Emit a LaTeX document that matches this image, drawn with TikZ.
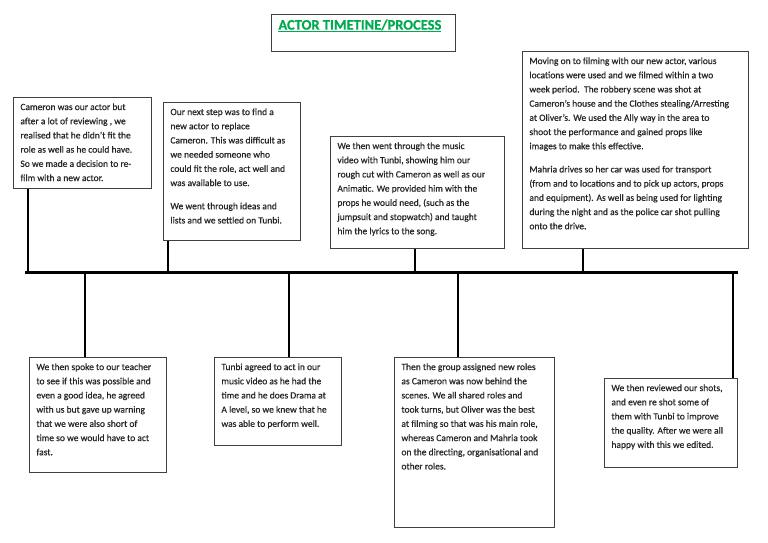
\documentclass[tikz,border=0pt]{standalone}
\usepackage{fontspec}
\setmainfont{Carlito}[FakeBold=0.8]
\usepackage{tikz}
\usetikzlibrary{calc}

\definecolor{titlegreen}{RGB}{0,170,80}

\begin{document}
\begin{tikzpicture}[x=1pt,y=-1pt,
	event/.style={draw=black!75, line width=0.9pt, anchor=north west,
		inner xsep=7pt, inner ysep=6pt,
		font=\fontsize{9.5}{14.2}\selectfont\addfontfeatures{FakeBold=0.6}, text=black!85},
	timeline/.style={line width=3pt, line cap=rect},
	stem/.style={line width=2.6pt}]

% parameters %{{{2

	\def\liney{272}
	\def\gap{9pt}

	\useasboundingbox (0,0) rectangle (768,543);

% title %{{{2

	\node[event, inner ysep=5pt, font=\fontsize{14.5}{16}\selectfont\bfseries, text=titlegreen]
		(title) at (271,14)
		{\begin{minipage}[t][27pt][t]{170pt}\underline{ACTOR TIMETINE/PROCESS}\end{minipage}};

% boxes above %{{{2

	\node[event] (B1) at (13,97)
		{\begin{minipage}[t][79pt][t]{124pt}\raggedright
		Cameron was our actor but\\
		after a lot of reviewing , we\\
		realised that he didn't fit the\\
		role as well as he could have.\\
		So we made a decision to re-\\
		film with a new actor.
		\end{minipage}};

	\node[event] (B2) at (163,102)
		{\begin{minipage}[t][126pt][t]{123pt}\raggedright
		Our next step was to find a\\
		new actor to replace\\
		Cameron. This was difficult as\\
		we needed someone who\\
		could fit the role, act well and\\
		was available to use.\\[\gap]
		We went through ideas and\\
		lists and we settled on Tunbi.
		\end{minipage}};

	\node[event] (B3) at (330,136)
		{\begin{minipage}[t][100pt][t]{160pt}\raggedright
		We then went through the music\\
		video with Tunbi, showing him our\\
		rough cut with Cameron as well as our\\
		Animatic. We provided him with the\\
		props he would need, (such as the\\
		jumpsuit and stopwatch) and taught\\
		him the lyrics to the song.
		\end{minipage}};

	\node[event] (B4) at (522,51)
		{\begin{minipage}[t][185pt][t]{212pt}\raggedright
		Moving on to filming with our new actor, various\\
		locations were used and we filmed within a two\\
		week period.\ \ The robbery scene was shot at\\
		Cameron's house and the Clothes stealing/Arresting\\
		at Oliver's. We used the Ally way in the area to\\
		shoot the performance and gained props like\\
		images to make this effective.\\[\gap]
		Mahria drives so her car was used for transport\\
		(from and to locations and to pick up actors, props\\
		and equipment). As well as being used for lighting\\
		during the night and as the police car shot pulling\\
		onto the drive.
		\end{minipage}};

% boxes below %{{{2

	\node[event] (B5) at (29,357)
		{\begin{minipage}[t][103pt][t]{123pt}\raggedright
		We then spoke to our teacher\\
		to see if this was possible and\\
		even a good idea, he agreed\\
		with us but gave up warning\\
		that we were also short of\\
		time so we would have to act\\
		fast.
		\end{minipage}};

	\node[event] (B6) at (214,357)
		{\begin{minipage}[t][76pt][t]{113pt}\raggedright
		Tunbi agreed to act in our\\
		music video as he had the\\
		time and he does Drama at\\
		A level, so we knew that he\\
		was able to perform well.
		\end{minipage}};

	\node[event] (B7) at (394,357)
		{\begin{minipage}[t][158pt][t]{146pt}\raggedright
		Then the group assigned new roles\\
		as Cameron was now behind the\\
		scenes. We all shared roles and\\
		took turns, but Oliver was the best\\
		at filming so that was his main role,\\
		whereas Cameron and Mahria took\\
		on the directing, organisational and\\
		other roles.
		\end{minipage}};

	\node[event] (B8) at (604,378)
		{\begin{minipage}[t][77pt][t]{119pt}\raggedright
		We then reviewed our shots,\\
		and even re shot some of\\
		them with Tunbi to improve\\
		the quality. After we were all\\
		happy with this we edited.
		\end{minipage}};

% timeline %{{{2

	\coordinate (L) at (26,\liney);
	\coordinate (R) at (736,\liney);

	\draw[timeline] (L) -- (R);

% stems %{{{2

	\coordinate (T1) at (28,\liney);
	\coordinate (T2) at (168,\liney);
	\coordinate (T3) at (415,\liney);
	\coordinate (T4) at (583,\liney);
	\coordinate (T5) at (85,\liney);
	\coordinate (T6) at (289,\liney);
	\coordinate (T7) at (458,\liney);
	\coordinate (T8) at (733,\liney);

	\foreach \t/\b in {T1/B1,T2/B2,T3/B3,T4/B4} {
		\draw[stem] (\t) -- (\t |- \b.south);
	}

	\foreach \t/\b in {T5/B5,T6/B6,T7/B7,T8/B8} {
		\draw[stem] (\t) -- (\t |- \b.north);
	}

% closing %{{{2

\end{tikzpicture}
\end{document}
